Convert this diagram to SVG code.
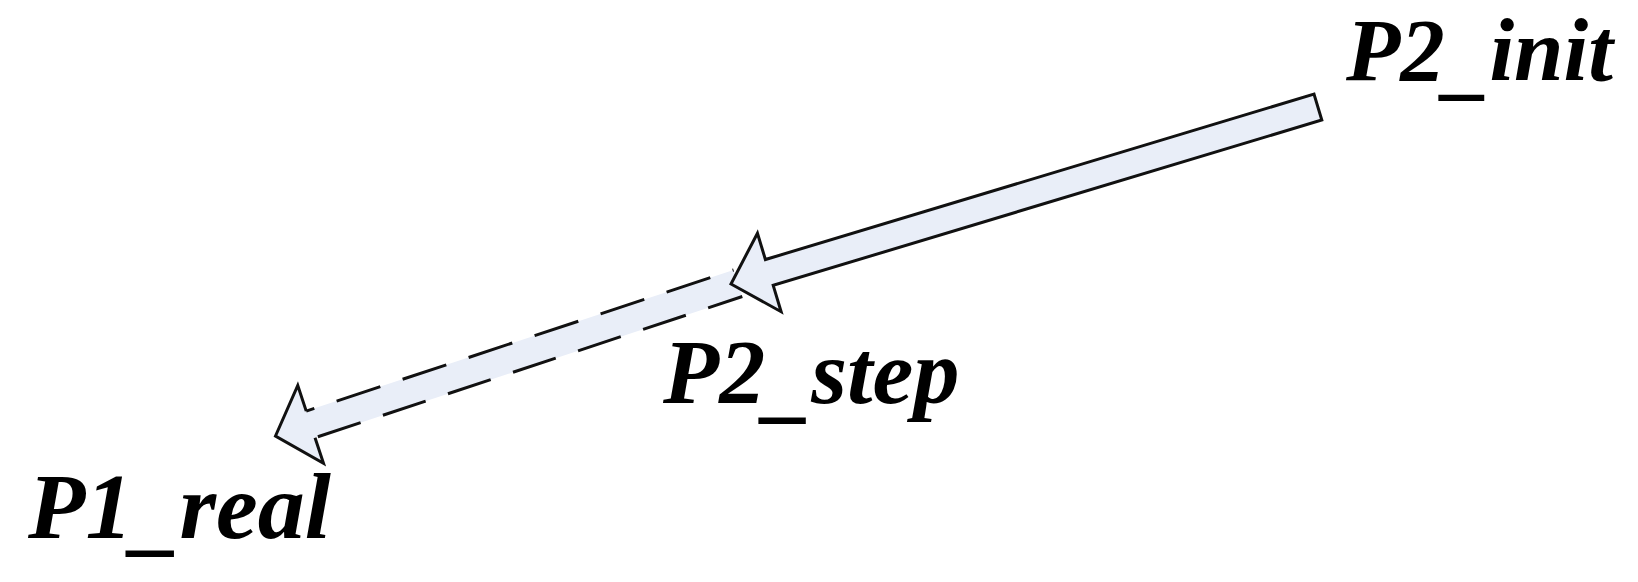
<svg xmlns="http://www.w3.org/2000/svg" width="1638" height="582" viewBox="0 0 1638 582">
  <style>
    .lbl { font-family: "Liberation Serif", "Times New Roman", serif; font-weight: bold; font-style: italic; fill: #000; }
    .body { fill: #E9EEF8; stroke: none; }
    .edge { fill: none; stroke: #111; stroke-width: 3; stroke-linejoin: miter; }
  </style>
  <rect width="1638" height="582" fill="#fff"/>
  <g id="connectors">
    <g id="arrow-step-to-real" transform="translate(275.5,436) rotate(-18.28)">
      <polygon class="body" points="0,0 37,-41 37,-14 487,-14 487,14 37,14 37,41"/>
      <polyline class="edge" points="37,-14 37,-41 0,0 37,41 37,14"/>
      <line class="edge" x1="37" y1="-14" x2="487" y2="-14" stroke-dasharray="46 23.5" stroke-dashoffset="37.5"/>
      <line class="edge" x1="37" y1="14" x2="487" y2="14" stroke-dasharray="45 23.5" stroke-dashoffset="65.5"/>
    </g>
    <g id="arrow-init-to-step" transform="translate(731,284) rotate(-16.78)">
      <polygon class="body" points="0,0 40,-41 40,-13.5 613,-13.5 613,13.5 40,13.5 40,41"/>
      <polygon class="edge" points="0,0 40,-41 40,-13.5 613,-13.5 613,13.5 40,13.5 40,41"/>
    </g>
  </g>
  <g id="node-p2-init">
    <text class="lbl" x="1346" y="80" font-size="89">P2<tspan dy="9">_</tspan><tspan dy="-9">init</tspan></text>
  </g>
  <g id="node-p2-step">
    <text class="lbl" x="663" y="403" font-size="92">P2<tspan dy="8">_</tspan><tspan dy="-8">step</tspan></text>
  </g>
  <g id="node-p1-real">
    <text class="lbl" x="28" y="538" font-size="94">P1<tspan dy="6">_</tspan><tspan dy="-6">real</tspan></text>
  </g>
</svg>
